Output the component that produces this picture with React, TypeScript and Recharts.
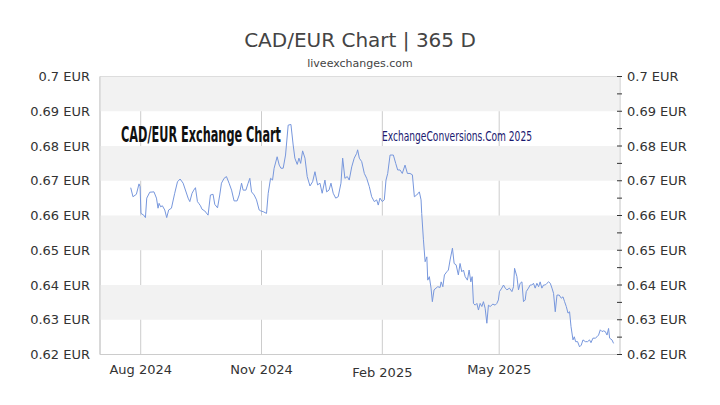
import { CartesianGrid, Line, LineChart, ReferenceArea, ReferenceLine, XAxis, YAxis } from 'recharts'

// days counted from 2024-07-01
const dayOffsets = [
  23.4, 25.1, 27.7, 29.7, 30.5, 31.2, 33.3, 34.6, 35.6, 37.9,
  41.1, 43.0, 44.2, 45.0, 46.2, 47.5, 49.3, 50.8, 52.3, 54.4,
  56.9, 59.0, 61.0, 63.3, 67.1, 68.4, 70.1, 71.4, 72.7, 74.2,
  75.2, 76.5, 77.7, 79.8, 82.3, 84.1, 86.1, 87.4, 89.5, 91.2,
  92.5, 94.5, 96.3, 98.3, 100.2, 102.1, 104.4, 106.0, 107.8, 109.0,
  111.1, 112.8, 114.1, 115.4, 117.4, 119.2, 121.2, 122.5, 124.3, 126.8,
  128.1, 129.9, 131.4, 132.6, 134.9, 136.5, 137.8, 139.5, 141.3, 143.3,
  145.4, 147.1, 148.4, 150.2, 151.5, 152.8, 154.3, 156.1, 157.8, 159.9,
  161.9, 163.7, 165.7, 167.5, 169.2, 171.3, 172.6, 174.4, 175.9, 177.6,
  179.5, 181.4, 183.5, 184.8, 186.5, 188.3, 189.8, 191.7, 193.6, 195.5,
  196.2, 197.5, 199.3, 201.3, 203.1, 205.1, 206.9, 208.9, 210.7, 211.9,
  213.2, 215.0, 216.5, 217.8, 219.1, 220.9, 223.4, 225.2, 226.7, 228.5,
  230.2, 232.3, 234.1, 236.1, 237.9, 239.4, 241.2, 243.2, 244.5, 245.0,
  246.3, 247.6, 248.9, 249.6, 250.8, 252.1, 253.1, 254.4, 255.9, 257.2,
  259.0, 259.8, 261.1, 262.3, 264.1, 265.3, 266.6, 268.4, 269.7, 271.2,
  272.9, 274.2, 275.5, 276.8, 278.1, 279.8, 281.1, 282.4, 283.4, 284.4,
  285.7, 287.0, 288.2, 289.5, 290.8, 292.0, 293.3, 294.6, 295.8, 297.1,
  299.2, 300.9, 302.2, 303.4, 304.2, 306.0, 307.3, 308.6, 309.9, 311.8,
  313.7, 314.9, 315.7, 317.5, 318.7, 320.0, 321.3, 322.5, 323.8, 324.6,
  326.3, 327.6, 328.9, 330.1, 331.4, 332.7, 334.0, 335.2, 336.5, 337.8,
  339.1, 340.4, 341.6, 342.9, 344.2, 345.4, 346.7, 348.0, 349.7, 351.3,
  352.6, 353.8, 355.1, 356.4, 357.6, 358.7, 360.2, 361.2, 362.2, 363.7,
  365.2, 366.5, 367.8, 369.6, 371.3, 372.8, 373.9, 375.4, 377.2, 378.5,
  379.7, 381.0, 382.3, 383.5, 384.8, 386.1, 387.3, 388.1, 389.9, 391.1,
]

const cadEurRates = [
  0.668, 0.6654, 0.6661, 0.6691, 0.6683, 0.6606, 0.6601, 0.6594, 0.665, 0.6667,
  0.6668, 0.665, 0.6621, 0.6635, 0.6625, 0.6628, 0.6616, 0.6594, 0.6616, 0.6621,
  0.6664, 0.6697, 0.6705, 0.6693, 0.665, 0.664, 0.6664, 0.6673, 0.668, 0.664,
  0.6635, 0.6628, 0.6618, 0.6613, 0.6601, 0.6659, 0.6661, 0.6632, 0.6622, 0.6659,
  0.6693, 0.6707, 0.6712, 0.6693, 0.6673, 0.6642, 0.6642, 0.6659, 0.6693, 0.6673,
  0.6673, 0.6693, 0.6707, 0.6668, 0.6659, 0.6645, 0.6616, 0.6613, 0.6611, 0.6606,
  0.6664, 0.6707, 0.6702, 0.6736, 0.6769, 0.6745, 0.6736, 0.6736, 0.6774, 0.686,
  0.6862, 0.6803, 0.6765, 0.6747, 0.6765, 0.675, 0.6786, 0.6765, 0.6712, 0.6685,
  0.6697, 0.6726, 0.6688, 0.6693, 0.6664, 0.6702, 0.6668, 0.6673, 0.6693, 0.6664,
  0.665, 0.6654, 0.6693, 0.6765, 0.6707, 0.6712, 0.6702, 0.674, 0.6765, 0.6779,
  0.6789, 0.6765, 0.6755, 0.6721, 0.6707, 0.6683, 0.6654, 0.664, 0.6645, 0.663,
  0.665, 0.664, 0.6645, 0.6702, 0.6721, 0.6774, 0.6774, 0.675, 0.6731, 0.6731,
  0.6721, 0.6745, 0.6721, 0.6721, 0.6717, 0.6654, 0.6659, 0.6668, 0.6645, 0.6606,
  0.653, 0.6467, 0.6481, 0.6414, 0.6424, 0.6391, 0.6352, 0.6386, 0.6391, 0.6395,
  0.6393, 0.6409, 0.6395, 0.6429, 0.6438, 0.6443, 0.6472, 0.6506, 0.6462, 0.6458,
  0.6429, 0.6462, 0.6438, 0.6443, 0.6424, 0.6414, 0.6443, 0.6409, 0.6424, 0.6347,
  0.6342, 0.6347, 0.6328, 0.6347, 0.6338, 0.6352, 0.6333, 0.629, 0.6342, 0.6338,
  0.6345, 0.6342, 0.6347, 0.6357, 0.6381, 0.6391, 0.64, 0.6391, 0.6386, 0.6391,
  0.6381, 0.6395, 0.6448, 0.6424, 0.6386, 0.6405, 0.6409, 0.6352, 0.6357, 0.6381,
  0.6391, 0.64, 0.64, 0.6405, 0.6391, 0.6405, 0.6395, 0.6409, 0.6391, 0.64,
  0.64, 0.6405, 0.6409, 0.6405, 0.6391, 0.6376, 0.6323, 0.6371, 0.6371, 0.6362,
  0.6366, 0.6352, 0.6338, 0.6319, 0.6323, 0.628, 0.6242, 0.6251, 0.6237, 0.6237,
  0.6222, 0.6227, 0.6242, 0.6237, 0.6237, 0.6242, 0.6234, 0.6247, 0.6247, 0.6251,
  0.6256, 0.6271, 0.6266, 0.6268, 0.6266, 0.6256, 0.6275, 0.6247, 0.6242, 0.6232,
]

const xTickDays = [31, 123, 215, 304]
const xTickLabels = ['Aug 2024', 'Nov 2024', 'Feb 2025', 'May 2025']
const yTicks = [0.62, 0.63, 0.64, 0.65, 0.66, 0.67, 0.68, 0.69, 0.7]
const yMinorTicks = [0.62, 0.625, 0.63, 0.635, 0.64, 0.645, 0.65, 0.655, 0.66, 0.665, 0.67, 0.675, 0.68, 0.685, 0.69, 0.695, 0.7]
const shadedBands = [
  [0.69, 0.7],
  [0.67, 0.68],
  [0.65, 0.66],
  [0.63, 0.64],
]

const chartData = dayOffsets.map((day, i) => ({ day, rate: cadEurRates[i] }))

const FONT = "'DejaVu Sans', sans-serif"
const NARROW = "'Liberation Sans Narrow', 'DejaVu Sans Condensed', sans-serif"

const eurLabel = (value: number) => `${Number(value.toFixed(2))} EUR`
const isMajor = (value: number) => Math.round(value * 1000) % 10 === 0

const XTick = (props: { x?: number; y?: number; payload?: { value: number } }) => {
  const { x = 0, y = 0, payload } = props
  const idx = xTickDays.indexOf(payload?.value ?? -1)
  // the Feb label sits a few pixels lower in the original
  const shift = idx === 2 ? 3 : 0
  return (
    <text x={x} y={y + shift} dy="0.71em" textAnchor="middle" fill="#333" fontSize={13} fontFamily={FONT}>
      {idx >= 0 ? xTickLabels[idx] : ''}
    </text>
  )
}

const RightTick = (props: { x?: number; y?: number; payload?: { value: number } }) => {
  const { x = 0, y = 0, payload } = props
  const value = payload?.value ?? 0
  return (
    <g>
      <line x1={x - 3} x2={x + 2} y1={y} y2={y} stroke="#333" />
      {isMajor(value) && (
        <text x={x + 7} y={y} dy="0.355em" textAnchor="start" fill="#333" fontSize={13} fontFamily={FONT}>
          {eurLabel(value)}
        </text>
      )}
    </g>
  )
}

export default function App() {
  return (
    <div style={{ position: 'absolute', left: 0, top: 0, width: 720, height: 405, background: '#fff' }}>
      <div
        style={{
          position: 'absolute',
          top: 28,
          width: 720,
          textAlign: 'center',
          fontFamily: FONT,
          fontSize: 20,
          color: '#444',
        }}
      >
        CAD/EUR Chart | 365 D
      </div>
      <div
        style={{
          position: 'absolute',
          top: 57,
          width: 720,
          textAlign: 'center',
          fontFamily: FONT,
          fontSize: 11,
          color: '#444',
        }}
      >
        liveexchanges.com
      </div>
      <LineChart
        width={720}
        height={405}
        data={chartData}
        margin={{ top: 76.5, right: 0, left: 0, bottom: 20.5 }}
        style={{ position: 'absolute', left: 0, top: 0 }}
      >
        {shadedBands.map(([y1, y2]) => (
          <ReferenceArea
            key={y1}
            yAxisId="left"
            y1={y1}
            y2={y2}
            fill="#f2f2f2"
            fillOpacity={1}
            stroke="none"
            ifOverflow="visible"
          />
        ))}
        <CartesianGrid horizontal={false} stroke="#cccccc" />
        <ReferenceLine yAxisId="left" y={0.7} stroke="#dddddd" />
        <XAxis
          dataKey="day"
          type="number"
          domain={[0, 396]}
          ticks={xTickDays}
          interval={0}
          height={30}
          tickLine={false}
          tickSize={6}
          tickMargin={4}
          stroke="#cccccc"
          tick={<XTick />}
        />
        <YAxis
          yAxisId="left"
          orientation="left"
          width={100}
          domain={[0.62, 0.7]}
          ticks={yTicks}
          interval={0}
          tickLine={false}
          tickSize={6}
          tickMargin={4}
          tickFormatter={eurLabel}
          stroke="#cccccc"
          tick={{ fontSize: 13, fill: '#333', fontFamily: FONT }}
        />
        <YAxis
          yAxisId="right"
          orientation="right"
          width={100}
          domain={[0.62, 0.7]}
          ticks={yMinorTicks}
          interval={0}
          axisLine={{ stroke: '#dddddd' }}
          tickLine={false}
          tickSize={0}
          tickMargin={0}
          tick={<RightTick />}
        />
        <Line
          yAxisId="right"
          type="linear"
          dataKey="rate"
          stroke="transparent"
          dot={false}
          activeDot={false}
          isAnimationActive={false}
        />
        <Line
          yAxisId="left"
          type="linear"
          dataKey="rate"
          stroke="#7797dd"
          strokeWidth={1}
          dot={false}
          isAnimationActive={false}
        />
      </LineChart>
      <svg width={720} height={405} style={{ position: 'absolute', left: 0, top: 0, pointerEvents: 'none' }}>
        <text
          x={121}
          y={142}
          fontFamily={NARROW}
          fontWeight="bold"
          fontSize={21}
          fill="#111"
          textLength={160}
          lengthAdjust="spacingAndGlyphs"
        >
          CAD/EUR Exchange Chart
        </text>
        <text
          x={382}
          y={141}
          fontFamily={NARROW}
          fontSize={14.5}
          fill="#1a1a70"
          textLength={150}
          lengthAdjust="spacingAndGlyphs"
        >
          ExchangeConversions.Com 2025
        </text>
      </svg>
    </div>
  )
}
